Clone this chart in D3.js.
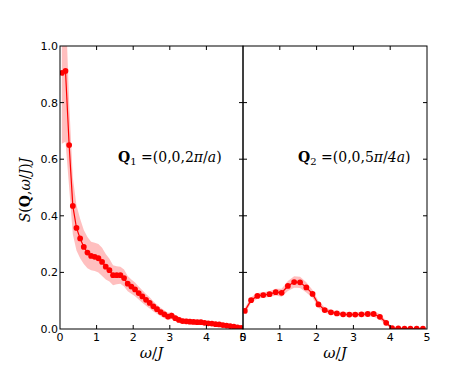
<!DOCTYPE html>
<html><head><meta charset="utf-8">
<script src="https://cdn.jsdelivr.net/npm/d3@7"></script>
<style>body{margin:0;background:#fff}svg{display:block}</style>
</head><body><svg id="c" width="474" height="366"></svg>
<script>
// Panel 1: Q1 = (0,0,2π/a)
const omega1 = [0.05,0.15,0.25,0.35,0.45,0.55,0.65,0.75,0.85,0.95,1.05,1.15,1.25,1.35,1.45,1.55,1.65,1.75,1.85,1.95,2.05,2.15,2.25,2.35,2.45,2.55,2.65,2.75,2.85,2.95,3.05,3.15,3.25,3.35,3.45,3.55,3.65,3.75,3.85,3.95,4.05,4.15,4.25,4.35,4.45,4.55,4.65,4.75,4.85,4.95];
const s1 = [0.905,0.912,0.65,0.435,0.357,0.32,0.29,0.27,0.258,0.255,0.25,0.237,0.22,0.208,0.19,0.19,0.19,0.18,0.16,0.15,0.14,0.127,0.115,0.103,0.092,0.08,0.07,0.06,0.052,0.044,0.047,0.038,0.032,0.028,0.027,0.026,0.025,0.024,0.024,0.022,0.02,0.019,0.017,0.016,0.014,0.012,0.01,0.008,0.006,0.004];
const err1 = [0.25,0.25,0.15,0.1,0.08,0.07,0.06,0.055,0.05,0.05,0.05,0.05,0.045,0.04,0.035,0.032,0.03,0.03,0.027,0.025,0.024,0.023,0.022,0.021,0.02,0.018,0.016,0.015,0.014,0.013,0.012,0.011,0.011,0.01,0.01,0.01,0.009,0.009,0.009,0.008,0.008,0.008,0.007,0.007,0.007,0.006,0.006,0.006,0.005,0.005];
// Panel 2: Q2 = (0,0,5π/4a)
const omega2 = [0.05,0.22,0.39,0.55,0.72,0.89,1.05,1.22,1.39,1.55,1.72,1.89,2.05,2.22,2.39,2.55,2.72,2.89,3.05,3.22,3.39,3.55,3.72,3.89,4.05,4.22,4.39,4.55,4.72,4.89];
const s2 = [0.064,0.102,0.117,0.12,0.123,0.13,0.128,0.152,0.166,0.165,0.147,0.124,0.087,0.067,0.059,0.055,0.052,0.051,0.051,0.052,0.053,0.053,0.043,0.022,0.003,0.002,0.001,0.001,0.001,0.001];
const err2 = [0.01,0.01,0.01,0.01,0.01,0.012,0.014,0.018,0.02,0.02,0.018,0.014,0.012,0.01,0.008,0.008,0.008,0.008,0.008,0.008,0.009,0.01,0.01,0.008,0.004,0.003,0.002,0.002,0.002,0.002];
const xTicks = [0,1,2,3,4,5];
const yTicks = [0,0.2,0.4,0.6,0.8,1.0];

const svg = d3.select("#c");
const pTop = 46, pBottom = 329;
const y = d3.scaleLinear().domain([0,1]).range([pBottom, pTop]);
const panels = [
  {x0:60, x1:243, om:omega1, s:s1, e:err1, lab:"1", tail:"2", den:"a", lx:118, ly:162},
  {x0:243, x1:427, om:omega2, s:s2, e:err2, lab:"2", tail:"5", den:"4a", lx:298, ly:162}
];
const font = "'DejaVu Sans', sans-serif";
panels.forEach((p, i) => {
  const x = d3.scaleLinear().domain([0,5]).range([p.x0, p.x1]);
  const cid = "clip"+i;
  svg.append("clipPath").attr("id", cid).append("rect")
    .attr("x", p.x0).attr("y", pTop).attr("width", p.x1-p.x0).attr("height", pBottom-pTop);
  const g = svg.append("g").attr("clip-path", `url(#${cid})`);
  const data = p.om.map((o,k)=>({o, v:p.s[k], e:p.e[k]}));
  g.append("path").datum(data)
    .attr("d", d3.area().x(d=>x(d.o)).y0(d=>y(d.v-d.e)).y1(d=>y(d.v+d.e)))
    .attr("fill", "#ff0000").attr("fill-opacity", 0.25).attr("stroke","none");
  g.append("path").datum(data)
    .attr("d", d3.line().x(d=>x(d.o)).y(d=>y(d.v)))
    .attr("fill","none").attr("stroke","#ff0000").attr("stroke-width",1.2);
  g.selectAll("path.m").data(data).enter().append("path").attr("class","m")
    .attr("transform", d=>`translate(${x(d.o)},${y(d.v)})`)
    .attr("d", d3.symbol().type(d3.symbolCircle).size(26))
    .attr("fill","#ff0000");
  svg.append("rect").attr("x",p.x0).attr("y",pTop).attr("width",p.x1-p.x0).attr("height",pBottom-pTop)
    .attr("fill","none").attr("stroke","#000").attr("stroke-width",1);
  const tl = 4;
  xTicks.forEach(t=>{
    const xx = x(t);
    if (t>0 && t<5){
      svg.append("line").attr("x1",xx).attr("x2",xx).attr("y1",pBottom).attr("y2",pBottom-tl).attr("stroke","#000");
      svg.append("line").attr("x1",xx).attr("x2",xx).attr("y1",pTop).attr("y2",pTop+tl).attr("stroke","#000");
    }
    svg.append("text").attr("x",xx).attr("y",pBottom+12).attr("text-anchor","middle")
      .attr("font-family",font).attr("font-size",11).text(t);
  });
  yTicks.forEach(t=>{
    const yy = y(t);
    if (t>0 && t<1){
      svg.append("line").attr("x1",p.x0).attr("x2",p.x0+tl).attr("y1",yy).attr("y2",yy).attr("stroke","#000");
      svg.append("line").attr("x1",p.x1).attr("x2",p.x1-tl).attr("y1",yy).attr("y2",yy).attr("stroke","#000");
    }
    if (i===0){
      svg.append("text").attr("x",p.x0-2).attr("y",yy+4).attr("text-anchor","end")
        .attr("font-family",font).attr("font-size",11).text(t.toFixed(1));
    }
  });
  const xl = svg.append("text").attr("x",(p.x0+p.x1)/2).attr("y",358).attr("text-anchor","middle")
    .attr("font-family","'DejaVu Serif', serif").attr("font-size",15);
  xl.append("tspan").attr("font-style","italic").text("ω");
  xl.append("tspan").text("/");
  xl.append("tspan").attr("font-style","italic").text("J");
  const an = svg.append("text").attr("x",p.lx).attr("y",p.ly)
    .attr("font-family","'DejaVu Serif', serif").attr("font-size",14);
  an.append("tspan").attr("font-weight","bold").text("Q");
  an.append("tspan").attr("font-size",10).attr("dy",3).text(p.lab);
  an.append("tspan").attr("dy",-3).text(" =(0,0,"+p.tail);
  an.append("tspan").attr("font-style","italic").text("π");
  an.append("tspan").text("/");
  an.append("tspan").attr("font-style","italic").text(p.den);
  an.append("tspan").text(")");
});
const yl = svg.append("text").attr("transform","translate(30,190) rotate(-90)").attr("text-anchor","middle")
  .attr("font-family","'DejaVu Serif', serif").attr("font-size",14);
yl.append("tspan").attr("font-style","italic").text("S");
yl.append("tspan").text("(");
yl.append("tspan").attr("font-weight","bold").text("Q");
yl.append("tspan").text(",");
yl.append("tspan").attr("font-style","italic").text("ω");
yl.append("tspan").text("/");
yl.append("tspan").attr("font-style","italic").text("J");
yl.append("tspan").text(")");
yl.append("tspan").attr("font-style","italic").text("J");
</script></body></html>
